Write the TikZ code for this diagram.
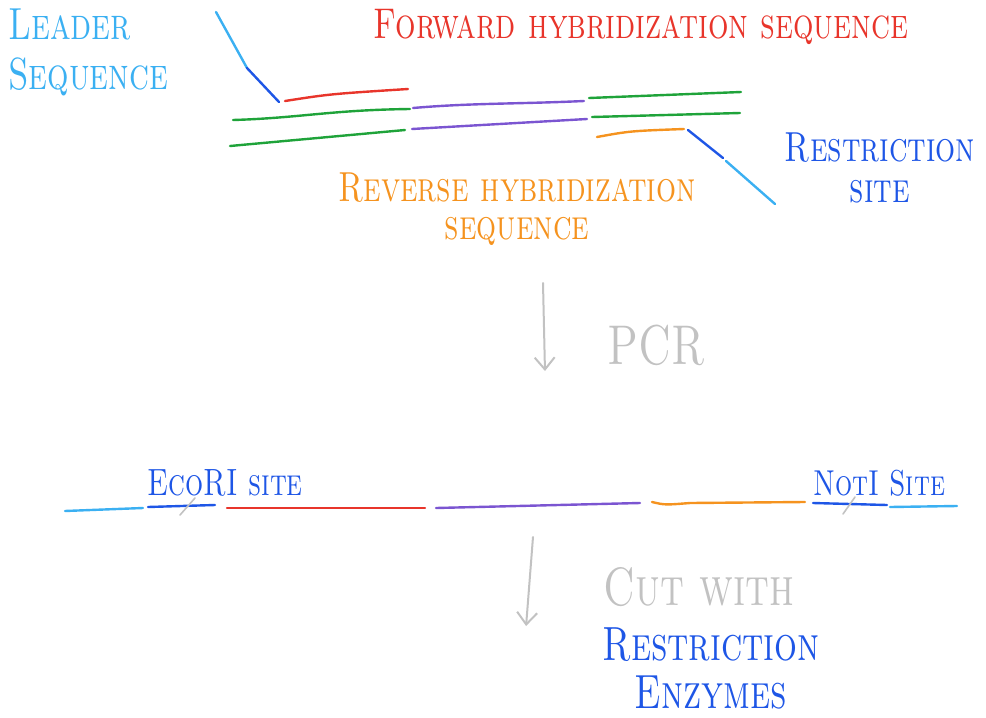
\documentclass[tikz,border=0pt]{standalone}
\usepackage{fontspec}
\usepackage{tikz}
\usetikzlibrary{arrows.meta}
\newfontfamily\sketchfont{lmromancaps10-regular.otf}[FakeStretch=0.75]
\definecolor{leaderblue}{HTML}{3BB0F2}
\definecolor{siteblue}{HTML}{1E56E6}
\definecolor{fwdred}{HTML}{E8352B}
\definecolor{revorange}{HTML}{F5931F}
\definecolor{tmplgreen}{HTML}{1FA33A}
\definecolor{midpurple}{HTML}{7B55D1}
\definecolor{stepgray}{HTML}{C2C2C2}
\newcommand{\sketchsize}[2]{\sketchfont\fontsize{#1}{#2}\selectfont}

\begin{document}
\begin{tikzpicture}[x=1pt,y=-1pt,>={Straight Barb[length=12pt,width=20pt,line width=2pt]},line cap=round]
  \tikzstyle{every node}=[inner sep=0pt]
  \tikzstyle{strand}=[line width=2.4pt]
  \tikzstyle{sketchtext}=[font=\sketchsize{45}{50},align=center]
  \tikzstyle{steparrow}=[->,stepgray,line width=2pt,shorten >=1pt]

  \useasboundingbox (0,0) rectangle (986,718);

  % labels, top half
  \node[sketchtext,leaderblue,align=left,anchor=west] (leader) at (8,52) {Leader\\Sequence};
  \node[sketchtext,fwdred,font=\sketchsize{43}{46}] (fwd) at (641,27) {Forward hybridization sequence};
  \node[sketchtext,siteblue,font=\sketchsize{42}{41}] (rsite) at (880,168) {Restriction\\site};
  \node[sketchtext,revorange,font=\sketchsize{42}{38}] (rev) at (517,209) {Reverse hybridization\\sequence};

  % primers and template
  \draw[strand,leaderblue] (216,12) -- (247,68);
  \draw[strand,siteblue] (247,68) -- (279,102);
  \draw[strand,fwdred] (285,101) .. controls (330,94) .. (408,89);
  \draw[strand,tmplgreen] (233,120) .. controls (300,118) and (330,110) .. (410,109);
  \draw[strand,midpurple] (413,108) .. controls (470,103) and (520,104) .. (584,101);
  \draw[strand,tmplgreen] (589,98) -- (741,92);
  \draw[strand,tmplgreen] (230,146) -- (405,130);
  \draw[strand,midpurple] (412,129) -- (587,119);
  \draw[strand,tmplgreen] (592,117) -- (740,113);
  \draw[strand,revorange] (597,137) .. controls (630,131) .. (684,129);
  \draw[strand,siteblue] (688,130) -- (723,158);
  \draw[strand,leaderblue] (726,161) -- (775,204);

  % PCR step
  \coordinate (pcrtop) at (543,283);
  \coordinate (pcrbot) at (545,372);
  \draw[steparrow] (pcrtop) -- (pcrbot);
  \node[sketchtext,stepgray,font=\sketchsize{56}{60}] (pcr) at (656,345) {PCR};

  % product
  \node[sketchtext,siteblue,font=\sketchsize{38}{40},anchor=base west] (ecori) at (147,495) {EcoRI site};
  \node[sketchtext,siteblue,font=\sketchsize{36}{40},anchor=base west] (noti) at (813,495) {NotI Site};
  \draw[strand,leaderblue] (65,511) -- (143,508);
  \draw[strand,siteblue] (148,507) -- (215,505);
  \draw[stepgray,line width=1.6pt] (180,515) -- (195,498);
  \draw[strand,fwdred] (227,508) -- (425,508);
  \draw[strand,midpurple] (436,508) -- (640,503);
  \draw[strand,revorange] (652,502) .. controls (665,505) .. (690,503) -- (805,502);
  \draw[strand,siteblue] (813,503) -- (887,505);
  \draw[stepgray,line width=1.6pt] (843,514) -- (855,497);
  \draw[strand,leaderblue] (890,507) -- (957,506);

  % cut step
  \coordinate (cuttop) at (533,537);
  \coordinate (cutbot) at (526,627);
  \draw[steparrow] (cuttop) -- (cutbot);
  \node[sketchtext,stepgray,font=\sketchsize{54}{60}] (cut) at (699,587) {Cut with};
  \node[sketchtext,siteblue,font=\sketchsize{48}{48}] (enz) at (711,668) {Restriction\\Enzymes};
\end{tikzpicture}
\end{document}
